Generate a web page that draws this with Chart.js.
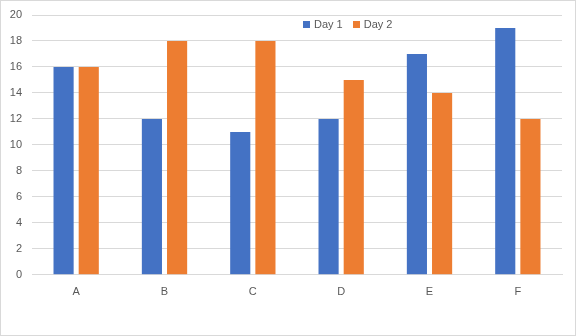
<!DOCTYPE html>
<html>
<head>
<meta charset="utf-8">
<script src="https://cdn.jsdelivr.net/npm/chart.js@4"></script>
<style>
    html, body { margin: 0; padding: 0; background: #fff; }
    #wrap { position: relative; width: 576px; height: 336px; box-sizing: border-box; border: 1px solid #d9d9d9; }
    #legend { position: absolute; left: 302px; top: 17px; font: 11px "Liberation Sans", Arial, sans-serif; color: #595959; }
    #legend span.box { display: inline-block; width: 7px; height: 7px; margin-right: 4px; }
    #legend span.item { margin-right: 10px; }
</style>
</head>
<body>
<div id="wrap">
    <canvas id="chart" width="574" height="334"></canvas>
    <div id="legend"></div>
</div>
<script>
// Chart data
const categories = ['A', 'B', 'C', 'D', 'E', 'F'];
const day1 = [16, 12, 11, 12, 17, 19];
const day2 = [16, 18, 18, 15, 14, 12];
const seriesNames = ['Day 1', 'Day 2'];
const seriesColors = ['#4472C4', '#ED7D31'];

// Simple HTML legend
document.getElementById('legend').innerHTML = seriesNames.map((name, i) =>
    `<span class="item"><span class="box" style="background:${seriesColors[i]}"></span>${name}</span>`
).join('');

const ctx = document.getElementById('chart').getContext('2d');

new Chart(ctx, {
    type: 'bar',
    data: {
        labels: categories,
        datasets: [
            { label: seriesNames[0], data: day1, backgroundColor: seriesColors[0] },
            { label: seriesNames[1], data: day2, backgroundColor: seriesColors[1] }
        ]
    },
    options: {
        responsive: false,
        animation: false,
        categoryPercentage: 0.57,
        barPercentage: 0.8,
        layout: {
            padding: { top: 14, right: 13, bottom: 25, left: 0 }
        },
        scales: {
            x: {
                grid: { display: false, drawTicks: false },
                border: { color: '#d9d9d9' },
                ticks: {
                    color: '#595959',
                    padding: 11,
                    font: { family: 'Liberation Sans', size: 11 }
                }
            },
            y: {
                min: 0,
                max: 20,
                afterFit: function (scale) { scale.width = 31; scale.paddingTop = 0; },
                grid: { color: '#d9d9d9', drawTicks: false },
                border: { display: false },
                ticks: {
                    stepSize: 2,
                    color: '#595959',
                    padding: 10,
                    font: { family: 'Liberation Sans', size: 11, lineHeight: 1 }
                }
            }
        },
        plugins: {
            legend: { display: false },
            tooltip: { enabled: false }
        }
    }
});
</script>
</body>
</html>
